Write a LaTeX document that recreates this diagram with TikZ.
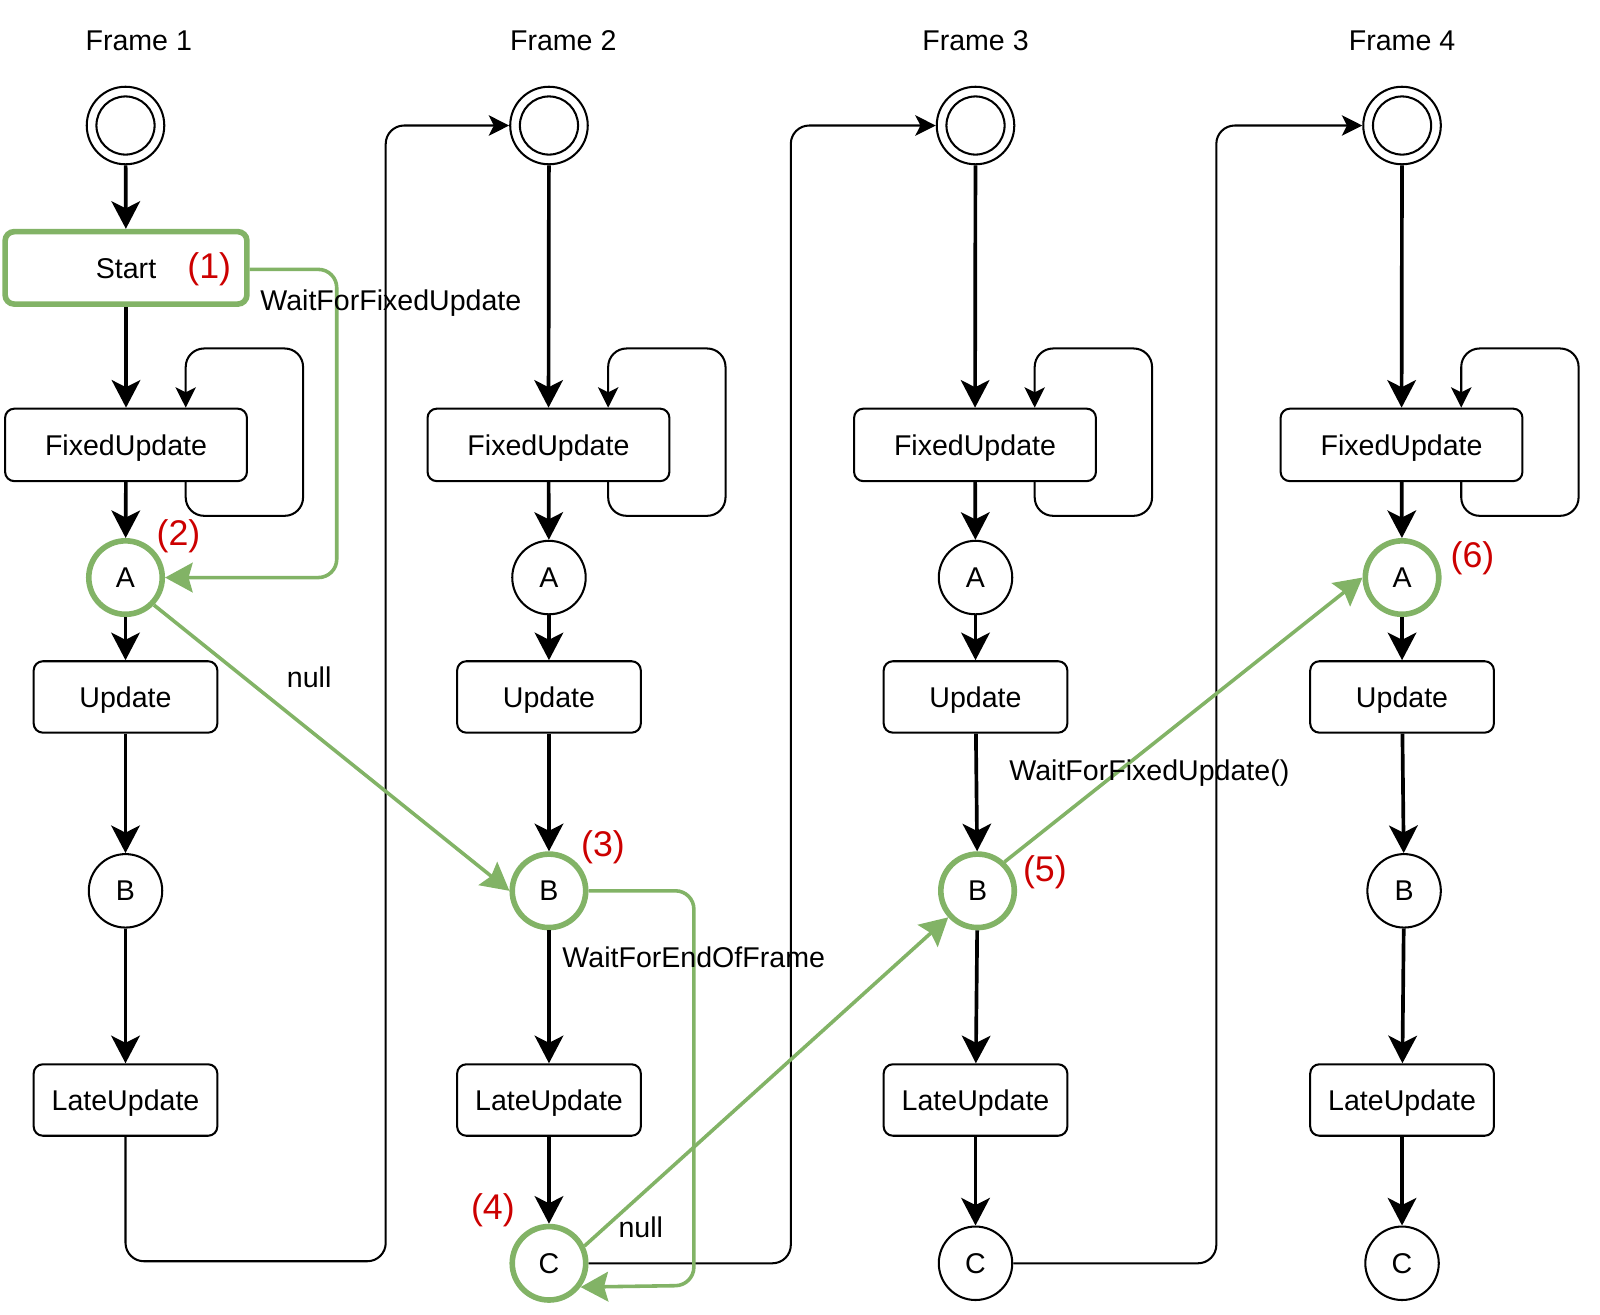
\documentclass[tikz,border=0pt]{standalone}
\usepackage{fontspec}
\setmainfont{Liberation Sans}
\usetikzlibrary{arrows.meta}
\definecolor{grn}{HTML}{82B366}
\definecolor{redlbl}{HTML}{CC0000}
\begin{document}
\begin{tikzpicture}[x=1pt,y=-1pt,
  every node/.style={font=\fontsize{28}{32}\selectfont, inner sep=0pt},
  lbl/.style={},
  box/.style={draw, line width=2pt, rounded corners=9pt, minimum width=237pt, minimum height=71pt, text height=20pt, text depth=0pt},
  sbox/.style={box, minimum width=180pt, minimum height=70pt},
  circ/.style={draw, circle, line width=2pt, minimum size=72pt},
  gcirc/.style={circ, draw=grn, line width=5.5pt},
  startc/.style={draw, circle, line width=2pt, minimum size=76pt},
  tarrow/.style={line width=3.6pt, -{Stealth[length=27pt,width=28pt,inset=7pt]}},
  narrow/.style={line width=2pt, rounded corners=18pt, -{Stealth[length=20pt,width=20pt,inset=5pt]}},
  garrow/.style={draw=grn, line width=3.5pt, rounded corners=18pt, -{Stealth[length=27pt,width=29pt,inset=4pt]}},
  redl/.style={text=redlbl, font=\fontsize{35}{40}\selectfont},
]
\useasboundingbox (0,0) rectangle (1568,1288);

% titles
\node[lbl] (t1) at (136,40) {Frame 1};
\node[lbl] (t2) at (552,40) {Frame 2};
\node[lbl] (t3) at (956,40) {Frame 3};
\node[lbl] (t4) at (1374,40) {Frame 4};

% start circles
\node[startc] (f1) at (123,123) {};
\node[startc] (f2) at (538,123) {};
\node[startc] (f3) at (956,123) {};
\node[startc] (f4) at (1374,123) {};
\foreach \n in {f1,f2,f3,f4}{\draw[line width=2pt] (\n.center) circle[radius=28.5];}

% column 1
\node[box, draw=grn, line width=5.5pt] (st1) at (123.5,262.5) {Start};
\node[box] (fu1) at (123.5,436) {FixedUpdate};
\node[gcirc] (a1) at (123,566) {A};
\node[sbox] (u1) at (123,683) {Update};
\node[circ] (b1) at (123,873) {B};
\node[sbox] (l1) at (123,1078) {LateUpdate};

% column 2
\node[box] (fu2) at (537.5,436) {FixedUpdate};
\node[circ] (a2) at (538,566) {A};
\node[sbox] (u2) at (538,683) {Update};
\node[gcirc] (b2) at (538,873) {B};
\node[sbox] (l2) at (538,1078) {LateUpdate};
\node[gcirc] (c2) at (538,1238) {C};

% column 3
\node[box] (fu3) at (955.5,436) {FixedUpdate};
\node[circ] (a3) at (956,566) {A};
\node[sbox] (u3) at (956,683) {Update};
\node[gcirc] (b3) at (958,873) {B};
\node[sbox] (l3) at (956,1078) {LateUpdate};
\node[circ] (c3) at (956,1238) {C};

% column 4
\node[box] (fu4) at (1373.5,436) {FixedUpdate};
\node[gcirc] (a4) at (1374,566) {A};
\node[sbox] (u4) at (1374,683) {Update};
\node[circ] (b4) at (1376,873) {B};
\node[sbox] (l4) at (1374,1078) {LateUpdate};
\node[circ] (c4) at (1374,1238) {C};

% red markers
\node[redl] (m1) at (205,264) {(1)};
\node[redl] (m2) at (175,526) {(2)};
\node[redl] (m3) at (591,830) {(3)};
\node[redl] (m4) at (483,1186) {(4)};
\node[redl] (m5) at (1024,855) {(5)};
\node[redl] (m6) at (1443,547) {(6)};

% thick vertical arrows
\draw[tarrow] (f1) -- (st1);
\draw[tarrow] (st1) -- (fu1);
\draw[tarrow] (fu1) -- (a1);
\draw[tarrow] (a1) -- (u1);
\draw[tarrow] (u1) -- (b1);
\draw[tarrow] (b1) -- (l1);
\foreach \c in {2,3,4}{
  \draw[tarrow] (f\c) -- (fu\c);
  \draw[tarrow] (fu\c) -- (a\c);
  \draw[tarrow] (a\c) -- (u\c);
  \draw[tarrow] (u\c) -- (b\c);
  \draw[tarrow] (b\c) -- (l\c);
  \draw[tarrow] (l\c) -- (c\c);
}

% self loops
\foreach \c in {1,2,3,4}{
  \draw[narrow] ([xshift=58.5pt]fu\c.south) -- ++(0,33) -- ++(115,0) -- ++(0,-164) -- ++(-115,0) -- ([xshift=58.5pt]fu\c.north);
}

% frame transitions
\draw[narrow] (l1.south) -- (123,1236) -- (378,1236) -- (378,123) -- (f2.west);
\draw[narrow] (c2.east) -- (775,1238) -- (775,123) -- (f3.west);
\draw[narrow] (c3.east) -- (1192,1238) -- (1192,123) -- (f4.west);

% green flow
\draw[garrow] (st1.east |- 0,264) -- (330,264) -- (330,566) -- (a1.east);
\draw[garrow] (a1.-44) -- (b2.west);
\draw[garrow] (b2.east) -- (680,873) -- (680,1259.7) -- (c2.-37);
\draw[garrow] (c2.26) -- (b3);
\draw[garrow] (b3.47) -- (a4.west);

% edge labels
\node[lbl, anchor=west] (w1) at (255,297) {WaitForFixedUpdate};
\node[lbl] (n1) at (303,664) {null};
\node[lbl, anchor=west] (w2) at (551,938) {WaitForEndOfFrame};
\node[lbl] (n2) at (628,1203) {null};
\node[lbl, anchor=west] (w3) at (989,758) {WaitForFixedUpdate()};
\end{tikzpicture}
\end{document}
